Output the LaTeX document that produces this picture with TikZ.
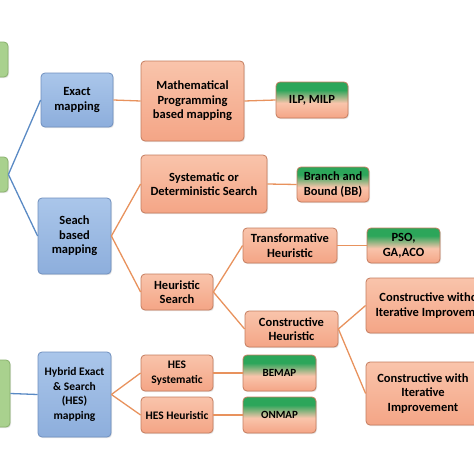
\documentclass[tikz,border=0pt]{standalone}
\usepackage{fontspec}
\setmainfont{Carlito}
\usepackage{xcolor}
\usetikzlibrary{shadows}
\definecolor{MapBlueTop}{HTML}{AAC6EA}
\definecolor{MapBlueBot}{HTML}{8DAEDC}
\definecolor{MapBlueLine}{HTML}{6F8FBE}
\definecolor{SalmonTop}{HTML}{F9C4AB}
\definecolor{SalmonBot}{HTML}{F4A586}
\definecolor{SalmonLine}{HTML}{C47C5E}
\definecolor{LeafFill}{HTML}{A9D18E}
\definecolor{LeafLine}{HTML}{88B06C}
\definecolor{AlgoGreen}{HTML}{2CA65A}
\definecolor{LinkBlue}{HTML}{5A8AC4}
\definecolor{LinkOrange}{HTML}{E8925D}
\pgfdeclareverticalshading{algoshade}{100bp}{color(0bp)=(SalmonBot); color(25bp)=(SalmonBot);
  color(46bp)=(SalmonTop); color(64bp)=(AlgoGreen); color(100bp)=(AlgoGreen)}

\begin{document}
\begin{tikzpicture}[
      x=1pt,y=-1pt,
      font=\fontsize{12.5}{14.5}\selectfont\bfseries,
      box/.style={rounded corners=4pt,line width=0.8pt,align=center,inner sep=2pt,
        drop shadow={opacity=0.2,shadow xshift=1pt,shadow yshift=-1.2pt}},
      lf/.style={box,draw=LeafLine,fill=LeafFill,minimum width=60pt},
      cat/.style={box,draw=MapBlueLine,top color=MapBlueTop,bottom color=MapBlueBot,minimum width=73pt},
      mth/.style={box,draw=SalmonLine,top color=SalmonTop,bottom color=SalmonBot},
      alg/.style={box,draw=SalmonLine,shading=algoshade,minimum width=73pt,minimum height=36pt},
      bl/.style={draw=LinkBlue,line width=1.3pt},
      ol/.style={draw=LinkOrange,line width=1.3pt}
    ]
      \useasboundingbox (0,0) rectangle (474,474);
      \clip (0,0) rectangle (474,474);

      \node[lf,minimum height=35pt] (top) at (-22,59.5) {};
      \node[lf,minimum height=35pt] (mid) at (-22,174.5) {};
      \node[lf,minimum height=67pt] (bot) at (-20,393.5) {};

      \node[cat,minimum width=72pt,minimum height=54pt] (exact) at (77,100) {Exact\\mapping};
      \node[cat,minimum height=76pt] (search) at (74.5,236) {Seach\\based\\mapping};
      \node[cat,minimum height=85pt] (hybrid) at (74.5,394.5) {\fontsize{11.5}{13}\selectfont Hybrid Exact\\\fontsize{11.5}{13}\selectfont\& Search\\\fontsize{11.5}{13}\selectfont(HES)\\\fontsize{11.5}{13}\selectfont mapping};

      \node[mth,minimum width=103pt,minimum height=80pt] (math) at (192.5,101) {Mathematical\\Programming\\based mapping};
      \node[mth,minimum width=126pt,minimum height=58pt] (sys) at (204,184) {Systematic or\\Deterministic Search};
      \node[mth,minimum width=72pt,minimum height=36pt] (heur) at (177,292) {Heuristic\\Search};
      \node[mth,minimum width=94pt,minimum height=35pt] (trans) at (290,245.5) {Transformative\\Heuristic};
      \node[mth,minimum width=93pt,minimum height=36pt] (cons) at (291.5,329) {Constructive\\Heuristic};
      \node[mth,minimum width=136pt,minimum height=55pt] (cwo) at (434,305.5) {Constructive without\\Iterative Improvement};
      \node[mth,minimum width=114pt,minimum height=63pt] (cwi) at (423,393.5) {Constructive with\\Iterative\\Improvement};
      \node[mth,minimum width=72pt,minimum height=36pt] (hsys) at (177,373) {\fontsize{11.5}{13}\selectfont HES\\\fontsize{11.5}{13}\selectfont Systematic};
      \node[mth,minimum width=72pt,minimum height=36pt] (hheur) at (177,415) {\fontsize{11.5}{13}\selectfont HES Heuristic};

      \node[alg,minimum width=72pt] (ilp) at (312,100) {ILP, MILP};
      \node[alg,minimum width=72pt,minimum height=35pt] (bb) at (333,184.5) {Branch and\\Bound (BB)};
      \node[alg,minimum height=35pt] (pso) at (403.5,245.5) {PSO,\\GA,ACO};
      \node[alg] (bemap) at (279.5,373) {\fontsize{11}{13}\selectfont BEMAP};
      \node[alg] (onmap) at (279.5,415) {\fontsize{11}{13}\selectfont ONMAP};

      \draw[bl] (mid.east) -- (exact.west);
      \draw[bl] (mid.east) -- (search.west);
      \draw[bl] (bot.east) -- (hybrid.west);

      \draw[ol] (exact.east) -- (math.west);
      \draw[ol] (math.east) -- (ilp.west);
      \draw[ol] (search.east) -- (sys.west);
      \draw[ol] (search.east) -- (heur.west);
      \draw[ol] (sys.east) -- (bb.west);
      \draw[ol] (heur.east) -- (trans.west);
      \draw[ol] (heur.east) -- (cons.west);
      \draw[ol] (trans.east) -- (pso.west);
      \draw[ol] (cons.east) -- (cwo.west);
      \draw[ol] (cons.east) -- (cwi.west);
      \draw[ol] (hybrid.east) -- (hsys.west);
      \draw[ol] (hybrid.east) -- (hheur.west);
      \draw[ol] (hsys.east) -- (bemap.west);
      \draw[ol] (hheur.east) -- (onmap.west);
    \end{tikzpicture}
\end{document}
